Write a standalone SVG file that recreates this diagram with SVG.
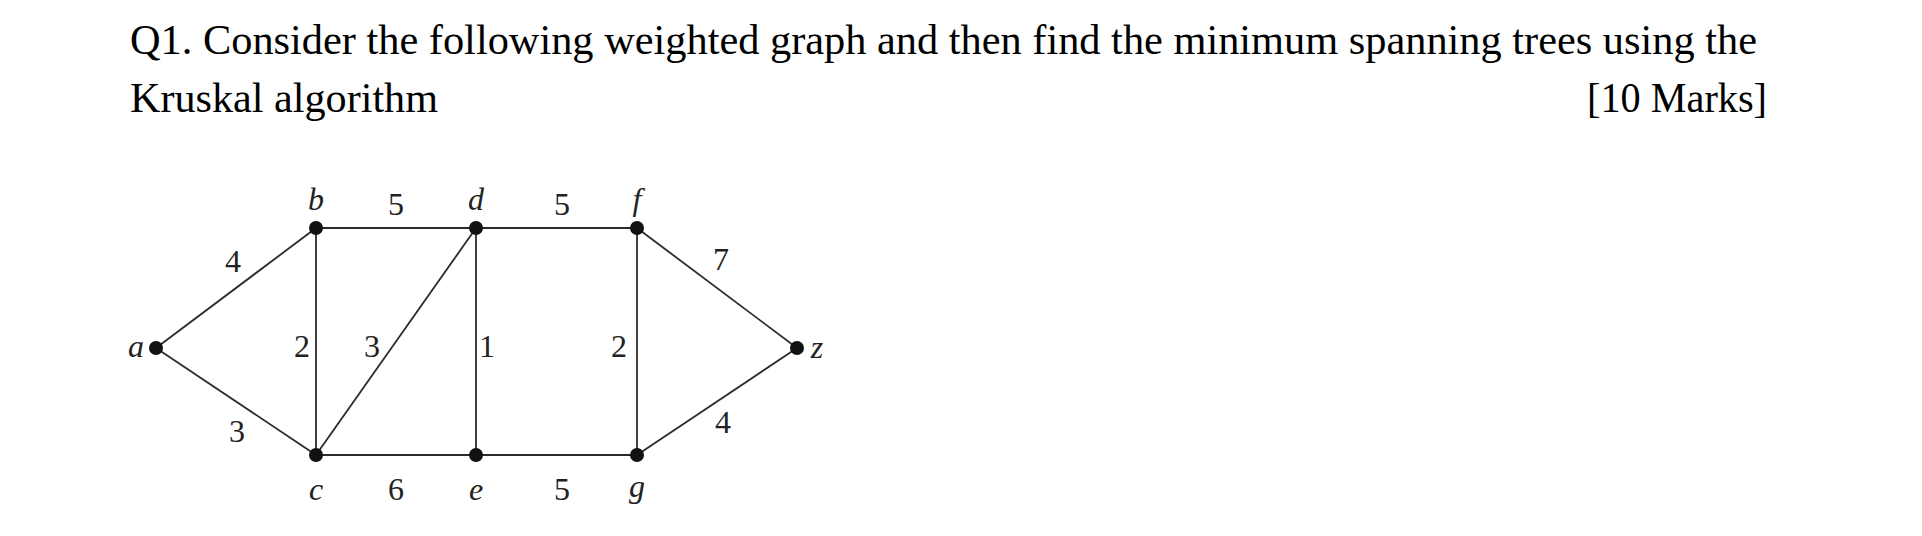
<svg xmlns="http://www.w3.org/2000/svg" width="1922" height="536" viewBox="0 0 1922 536">
<style>
.title{font-family:"Liberation Serif","Times New Roman",serif;font-size:43px;fill:#000}
.edge{stroke:#2b2b2b;stroke-width:1.8;fill:none}
.node{fill:#111}
.lbl{font-family:"Liberation Serif","Times New Roman",serif;font-size:32px;font-style:italic;fill:#222;text-anchor:middle}
.w{font-family:"Liberation Serif","Times New Roman",serif;font-size:32px;fill:#222;text-anchor:middle}
</style>
<rect width="1922" height="536" fill="#fff"/>
<text class="title" x="130" y="54" textLength="1627" lengthAdjust="spacingAndGlyphs">Q1. Consider the following weighted graph and then find the minimum spanning trees using the</text>
<text class="title" x="130" y="112" textLength="308" lengthAdjust="spacingAndGlyphs">Kruskal algorithm</text>
<text class="title" x="1587" y="112" textLength="180" lengthAdjust="spacingAndGlyphs">[10 Marks]</text>
<g id="connectors">
<line class="edge" x1="156" y1="348" x2="316" y2="228"/>
<line class="edge" x1="156" y1="348" x2="316" y2="455"/>
<line class="edge" x1="316" y1="228" x2="476" y2="228"/>
<line class="edge" x1="476" y1="228" x2="637" y2="228"/>
<line class="edge" x1="316" y1="228" x2="316" y2="455"/>
<line class="edge" x1="316" y1="455" x2="476" y2="228"/>
<line class="edge" x1="476" y1="228" x2="476" y2="455"/>
<line class="edge" x1="637" y1="228" x2="637" y2="455"/>
<line class="edge" x1="316" y1="455" x2="476" y2="455"/>
<line class="edge" x1="476" y1="455" x2="637" y2="455"/>
<line class="edge" x1="637" y1="228" x2="797" y2="348"/>
<line class="edge" x1="637" y1="455" x2="797" y2="348"/>
<text class="w" x="233" y="272">4</text>
<text class="w" x="237" y="442">3</text>
<text class="w" x="396" y="215">5</text>
<text class="w" x="562" y="215">5</text>
<text class="w" x="302" y="357">2</text>
<text class="w" x="372" y="357">3</text>
<text class="w" x="487" y="357">1</text>
<text class="w" x="619" y="357">2</text>
<text class="w" x="721" y="270">7</text>
<text class="w" x="723" y="433">4</text>
<text class="w" x="396" y="500">6</text>
<text class="w" x="562" y="500">5</text>
</g>
<g id="node-a"><circle class="node" cx="156" cy="348" r="7"/><text class="lbl" x="136" y="357">a</text></g>
<g id="node-b"><circle class="node" cx="316" cy="228" r="7"/><text class="lbl" x="316" y="210">b</text></g>
<g id="node-c"><circle class="node" cx="316" cy="455" r="7"/><text class="lbl" x="316" y="500">c</text></g>
<g id="node-d"><circle class="node" cx="476" cy="228" r="7"/><text class="lbl" x="476" y="210">d</text></g>
<g id="node-e"><circle class="node" cx="476" cy="455" r="7"/><text class="lbl" x="476" y="500">e</text></g>
<g id="node-f"><circle class="node" cx="637" cy="228" r="7"/><text class="lbl" x="637" y="210">f</text></g>
<g id="node-g"><circle class="node" cx="637" cy="455" r="7"/><text class="lbl" x="637" y="497">g</text></g>
<g id="node-z"><circle class="node" cx="797" cy="348" r="7"/><text class="lbl" x="817" y="358">z</text></g>
</svg>
